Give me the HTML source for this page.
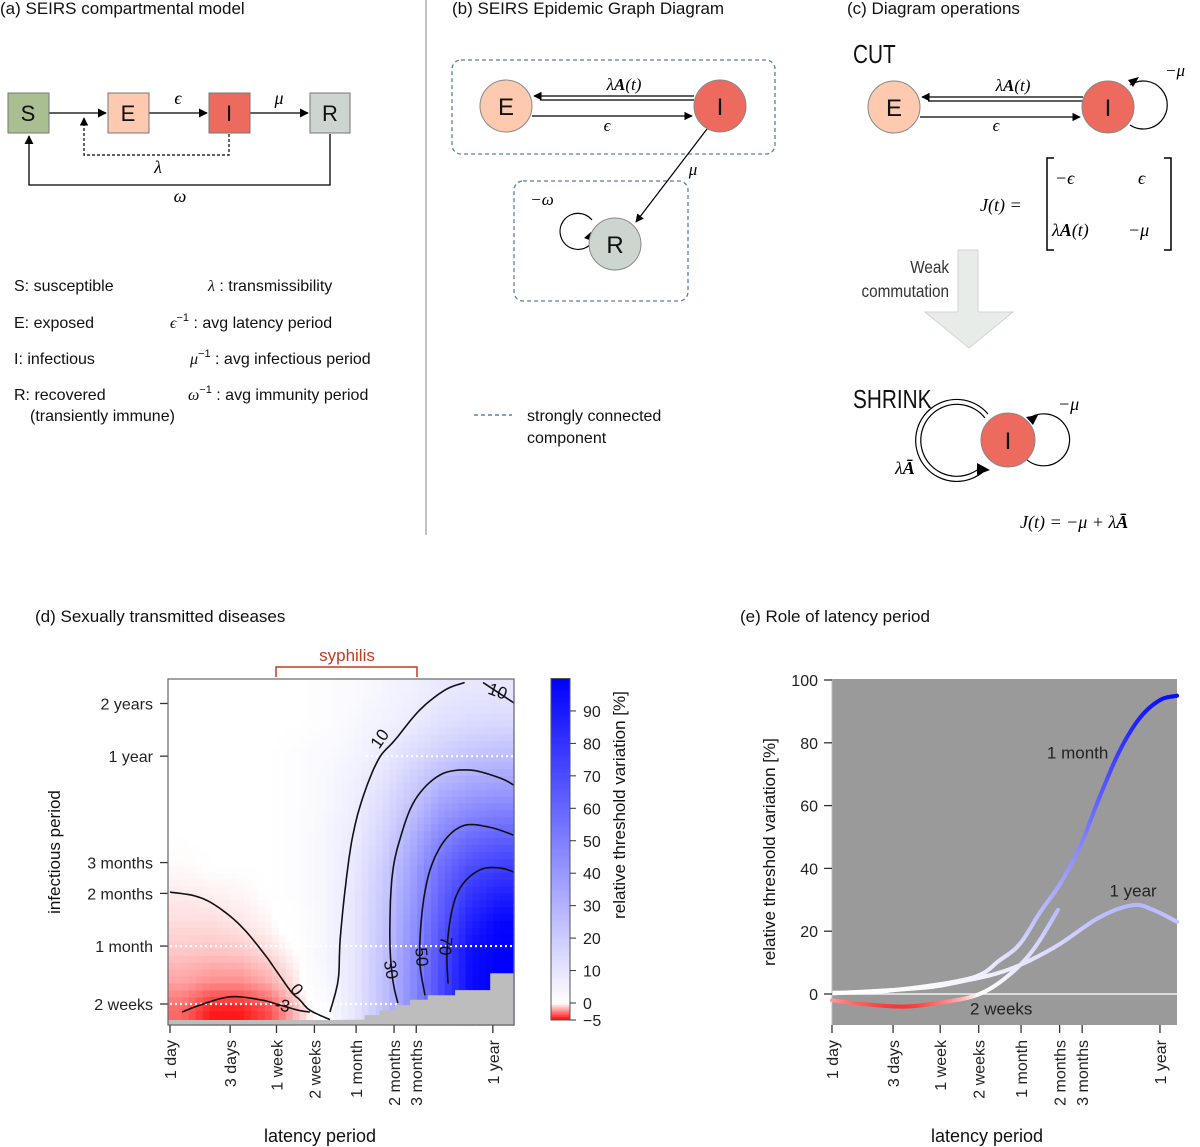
<!DOCTYPE html>
<html><head><meta charset="utf-8"><style>
html,body{margin:0;padding:0;background:#fff;}
svg{display:block;font-family:"Liberation Sans",sans-serif;}
.hd{font-size:17px;fill:#111;}
.lt{font-size:16px;fill:#111;}
.m{font-family:"Liberation Serif",serif;font-style:italic;}
.tk{font-size:16px;fill:#222;}
</style></head><body>
<svg id="fig" width="1200" height="1147" viewBox="0 0 1200 1147">
<defs>
<marker id="ah" viewBox="0 0 10 10" refX="9" refY="5" markerWidth="7" markerHeight="7" orient="auto-start-reverse"><path d="M0,0L10,5L0,10z" fill="#000"/></marker>
</defs>
<!-- Panel a -->
<g>
<text class="hd" x="0" y="14">(a)   SEIRS compartmental model</text>
<line x1="49" y1="113" x2="106" y2="113" stroke="#000" stroke-width="1.3" marker-end="url(#ah)"/>
<line x1="149" y1="113" x2="207" y2="113" stroke="#000" stroke-width="1.3" marker-end="url(#ah)"/>
<line x1="250" y1="113" x2="308" y2="113" stroke="#000" stroke-width="1.3" marker-end="url(#ah)"/>
<polyline points="229,134 229,155 84,155 84,118" fill="none" stroke="#000" stroke-width="1.2" stroke-dasharray="3,2" marker-end="url(#ah)"/>
<polyline points="330,134 330,185 29,185 29,136" fill="none" stroke="#000" stroke-width="1.3" marker-end="url(#ah)"/>
<rect x="8" y="93" width="41" height="40" fill="#a9bf92" stroke="#777"/>
<rect x="108" y="93" width="41" height="40" fill="#fdcab0" stroke="#777"/>
<rect x="209" y="93" width="41" height="40" fill="#ec6a5e" stroke="#777"/>
<rect x="310" y="93" width="40" height="40" fill="#ccd6cf" stroke="#777"/>
<g font-size="22" text-anchor="middle" fill="#111"><text x="28" y="121">S</text><text x="128" y="121">E</text><text x="229" y="121">I</text><text x="330" y="121">R</text></g>
<g class="m" font-size="18" text-anchor="middle"><text x="178" y="104">ϵ</text><text x="279" y="104">μ</text><text x="158" y="173">λ</text><text x="180" y="202">ω</text></g>
<g class="lt"><text x="14" y="291">S: susceptible</text><text x="14" y="328">E: exposed</text><text x="14" y="364">I: infectious</text><text x="14" y="400">R: recovered</text><text x="30" y="421">(transiently immune)</text>
<text x="208" y="291"><tspan class="m">λ</tspan> : transmissibility</text>
<text x="170" y="328"><tspan class="m">ϵ</tspan><tspan font-size="11" dy="-7">−1</tspan><tspan dy="7"> : avg latency period</tspan></text>
<text x="190" y="364"><tspan class="m">μ</tspan><tspan font-size="11" dy="-7">−1</tspan><tspan dy="7"> : avg infectious period</tspan></text>
<text x="188" y="400"><tspan class="m">ω</tspan><tspan font-size="11" dy="-7">−1</tspan><tspan dy="7"> : avg immunity period</tspan></text></g>
</g>
<line x1="426" y1="0" x2="426" y2="535" stroke="#999" stroke-width="1.2"/>
<!-- Panel b -->
<g>
<text class="hd" x="452" y="14">(b)   SEIRS Epidemic Graph Diagram</text>
<rect x="452" y="60" width="323" height="94" rx="9" fill="none" stroke="#5a7ea8" stroke-width="1.3" stroke-dasharray="4,3"/>
<rect x="514" y="181" width="174" height="120" rx="9" fill="none" stroke="#5a7ea8" stroke-width="1.3" stroke-dasharray="4,3"/>
<line x1="694" y1="96" x2="534" y2="96" stroke="#000" stroke-width="1.2" marker-end="url(#ah)"/>
<line x1="694" y1="100" x2="540" y2="100" stroke="#000" stroke-width="1.2"/>
<line x1="532" y1="116" x2="692" y2="116" stroke="#000" stroke-width="1.2" marker-end="url(#ah)"/>
<line x1="707" y1="129" x2="636" y2="222" stroke="#000" stroke-width="1.2" marker-end="url(#ah)"/>
<path d="M596,230 A18,18 0 1 1 592,220" fill="none" stroke="#000" stroke-width="1.2"/>
<path d="M584,238 l8,3 l-1,-9z" fill="#000"/>
<circle cx="506" cy="106" r="26" fill="#fdcab0" stroke="#888"/>
<circle cx="720" cy="106" r="26" fill="#ec6a5e" stroke="#888"/>
<circle cx="615" cy="244" r="26" fill="#ccd6cf" stroke="#888"/>
<g font-size="24" text-anchor="middle" fill="#111"><text x="506" y="115">E</text><text x="720" y="115">I</text><text x="615" y="253">R</text></g>
<g class="m" font-size="17" text-anchor="middle"><text x="624" y="90">λ<tspan font-weight="bold">A</tspan>(t)</text><text x="607" y="131">ϵ</text><text x="693" y="175">μ</text><text x="542" y="205">−ω</text></g>
<line x1="474" y1="415" x2="512" y2="415" stroke="#5a7ea8" stroke-width="1.5" stroke-dasharray="4,3"/>
<text class="lt" x="527" y="421">strongly connected</text><text class="lt" x="527" y="443">component</text>
</g>
<!-- Panel c -->
<g>
<text class="hd" x="847" y="14">(c)   Diagram operations</text>
<text x="853" y="63" font-size="26" fill="#111" transform="scale(0.8,1)" style="transform-origin:853px 63px">CUT</text>
<line x1="1083" y1="97" x2="922" y2="97" stroke="#000" stroke-width="1.2" marker-end="url(#ah)"/>
<line x1="1083" y1="101" x2="928" y2="101" stroke="#000" stroke-width="1.2"/>
<line x1="920" y1="117" x2="1080" y2="117" stroke="#000" stroke-width="1.2" marker-end="url(#ah)"/>
<path d="M1130,125 A24,24 0 1 0 1130,85" fill="none" stroke="#000" stroke-width="1.2"/>
<path d="M1128,80 l11,-3 l-6,10z" fill="#000"/>
<circle cx="894" cy="107" r="26" fill="#fdcab0" stroke="#888"/>
<circle cx="1108" cy="107" r="26" fill="#ec6a5e" stroke="#888"/>
<g font-size="24" text-anchor="middle" fill="#111"><text x="894" y="116">E</text><text x="1108" y="116">I</text></g>
<g class="m" font-size="17" text-anchor="middle"><text x="1013" y="91">λ<tspan font-weight="bold">A</tspan>(t)</text><text x="996" y="131">ϵ</text><text x="1175" y="76">−μ</text></g>
<g class="m" font-size="18"><text x="980" y="211">J(t) =</text><text x="1055" y="184">−ϵ</text><text x="1138" y="184">ϵ</text><text x="1052" y="236">λ<tspan font-weight="bold">A</tspan>(t)</text><text x="1128" y="236">−μ</text></g>
<path d="M1054,158 h-7 v92 h7 M1164,158 h7 v92 h-7" fill="none" stroke="#000" stroke-width="1.5"/>
<g font-size="18" fill="#333" text-anchor="end" transform="scale(0.85,1)" style="transform-origin:949px 280px"><text x="949" y="273">Weak</text><text x="949" y="297">commutation</text></g>
<path d="M958,250 h20 v62 h35 l-44,36 l-44,-36 h33z" fill="#e7ece8" stroke="#cfd6d0"/>
<text x="853" y="408" font-size="26" fill="#111" transform="scale(0.8,1)" style="transform-origin:853px 408px">SHRINK</text>
<path d="M985,418 A36,36 0 1 0 982,466" fill="none" stroke="#000" stroke-width="1.2"/>
<path d="M988,414 A41,41 0 1 0 984,471" fill="none" stroke="#000" stroke-width="1.2"/>
<path d="M990,470 l-13,-7 l0,12z" fill="#000"/>
<path d="M1025,458 A26,26 0 1 0 1028,419" fill="none" stroke="#000" stroke-width="1.2"/>
<path d="M1026,417 l12,-2 l-5,10z" fill="#000"/>
<circle cx="1008" cy="440" r="27" fill="#ec6a5e" stroke="#888"/>
<text x="1008" y="449" font-size="24" text-anchor="middle" fill="#111">I</text>
<g class="m" font-size="18"><text x="1058" y="410">−μ</text><text x="895" y="474">λ<tspan font-weight="bold">Ā</tspan></text><text x="1020" y="528">J(t) = −μ + λ<tspan font-weight="bold">Ā</tspan></text></g>
</g>
<!-- Panel d -->
<g id="pd">
<text class="hd" x="35" y="622">(d)   Sexually transmitted diseases</text>
<path d="M276,677 V667 H417 V677" fill="none" stroke="#c23b22" stroke-width="1.5"/>
<text x="347" y="661" font-size="17" fill="#c23b22" text-anchor="middle">syphilis</text>
<g id="heat"></g>
<g id="dover"></g>
<rect x="168" y="679" width="346" height="346" fill="none" stroke="#666" stroke-width="1.2"/>
<text x="60" y="852" font-size="17" fill="#111" text-anchor="middle" transform="rotate(-90 60 852)">infectious period</text>
<text x="320" y="1142" font-size="18" fill="#111" text-anchor="middle">latency period</text>
<g id="cbar"></g>
<text x="625" y="805" font-size="17" fill="#111" text-anchor="middle" transform="rotate(-90 625 805)">relative threshold variation [%]</text>
</g>
<!-- Panel e -->
<g id="pe">
<text class="hd" x="740" y="622">(e)   Role of latency period</text>
<rect x="832" y="679" width="345" height="346" fill="#9a9a9a"/>
<g id="eover"></g>
<text x="775" y="852" font-size="17" fill="#111" text-anchor="middle" transform="rotate(-90 775 852)">relative threshold variation [%]</text>
<text x="987" y="1142" font-size="18" fill="#111" text-anchor="middle">latency period</text>
</g>
</svg>
<script>
var NS="http://www.w3.org/2000/svg";
function mk(p,t,a){var e=document.createElementNS(NS,t);for(var k in a)e.setAttribute(k,a[k]);p.appendChild(e);return e;}
// ---- data panel d ----
var xTickDays=[1,3,7,14,30,60,90,365];
var xTickLabels=["1 day","3 days","1 week","2 weeks","1 month","2 months","3 months","1 year"];
var yTickDays=[14,30,60,90,365,730];
var yTickLabels=["2 weeks","1 month","2 months","3 months","1 year","2 years"];
var heatGrid=[
[0,0,0,0,0,1,2,4,6,9,10,10],
[0,0,0,0,0,1,3,5,8,12,14,15],
[0,0,0,0,1,2,4,8,13,18,22,24],
[0,0,0,0,1,3,6,11,19,28,33,35],
[0,0,0,0,1,3,7,14,25,38,45,48],
[0,0,0,0,1,4,8,17,32,48,58,62],
[-0.1,0,0,0,1,4,9,20,37,57,70,75],
[-0.4,-0.3,-0.2,0,1,4,10,22,40,62,80,88],
[-0.7,-0.7,-0.5,-0.2,0.5,4,10,23,43,66,88,98],
[-1.1,-1.2,-1.1,-0.7,0,4,10,24,45,70,95,100],
[-1.8,-2.2,-2.2,-1.6,-0.4,3,10,25,46,72,96,100],
[-3,-4.5,-4.5,-3.5,-1.2,1,10,25,46,72,96,100]];
var grayLat=[18.6,35,46,61,80.5,111,183,348,600];
var grayInf=[11.4,12.1,12.9,13.8,14.8,15.7,16.8,21,21];
var contourLevels=["10","10","30","50","70","0","-3"];
var contourLat=[
[18.6,21.6,22.4,24.5,27.8,33.4,44.8,61.1,96,152,218],
[305,537],
[64.3,58.7,55.6,57.6,66.5,88,139,240,415,537],
[105.6,96,100.6,116,152,218,348,537],
[161,158,173,208,290,415,537],
[1,1.58,2.27,3.6,5.68,8.95,10.7,12.9,18.6],
[1.25,1.73,3,5.2,7.5,10.4,12.9]];
var contourInf=[
[12.6,19.2,32.5,62.5,121,205,347,452,670,871,962],
[962,735],
[14.2,19.2,32.5,72,121,205,285,304,274,249],
[15.7,25,48.2,82,121,147,143,129],
[18.3,28.5,48.2,67,82,83.8,79.4],
[61,58,51.5,39.5,26.7,16.8,14.8,12.9,11.4],
[12.6,13.8,15.4,14.8,13.8,12.9,12.6]];
var labelLat=[46,400,57,100,155,10.2,7.8];
var labelInf=[460,860,22,26,30,17,13.8];
var labelRot=[-55,20,80,85,95,50,10];
var dottedInf=[365,30,14];
var dottedFrom=[36,1,1];
var dottedTo=[540,540,67];
var cbTicks=[-5,0,10,20,30,40,50,60,70,80,90];
function xd(d){return 170+126*Math.log10(d);}
function yd(d){return 1004-175*(Math.log10(d)-Math.log10(14));}
function col(v){if(v<0){var f=Math.min(1,-v/5);var g=Math.round(255*(1-f));return"rgb(255,"+g+","+g+")";}
var f=Math.min(1,v/100);var g=Math.round(255*(1-f));return"rgb("+g+","+g+",255)";}
function catmull(xs,ys,n){var out=[];for(var i=0;i<xs.length-1;i++){var p0=i?i-1:i,p3=Math.min(xs.length-1,i+2);for(var s=0;s<n;s++){var t=s/n,t2=t*t,t3=t2*t;
var cr=function(a,b,c,d){return 0.5*((2*b)+(-a+c)*t+(2*a-5*b+4*c-d)*t2+(-a+3*b-3*c+d)*t3);};
out.push([cr(xs[p0],xs[i],xs[i+1],xs[p3]),cr(ys[p0],ys[i],ys[i+1],ys[p3])]);}}
out.push([xs[xs.length-1],ys[ys.length-1]]);return out;}
var heat=document.getElementById("heat");
var X0=168,Y0=679,W=346,H=346,nr=heatGrid.length,nc=heatGrid[0].length,cs=W/nc,rs=H/nr;
function sample(px,py){var fx=(px-X0)/cs-0.5,fy=(py-Y0)/rs-0.5;fx=Math.max(0,Math.min(nc-1,fx));fy=Math.max(0,Math.min(nr-1,fy));
var i=Math.floor(fx),j=Math.floor(fy),i1=Math.min(nc-1,i+1),j1=Math.min(nr-1,j+1),a=fx-i,b=fy-j;
return heatGrid[j][i]*(1-a)*(1-b)+heatGrid[j][i1]*a*(1-b)+heatGrid[j1][i]*(1-a)*b+heatGrid[j1][i1]*a*b;}
var step=346/50;
for(var r=0;r<50;r++)for(var c=0;c<50;c++){var px=X0+c*step,py=Y0+r*step;var v=sample(px+step/2,py+step/2);
var e=mk(heat,"rect",{x:px.toFixed(2),y:py.toFixed(2),width:(step+0.6).toFixed(2),height:(step+0.6).toFixed(2),fill:col(v)});

}
var gp="M168,1025 L168,1020 L"+xd(grayLat[0]).toFixed(1)+",1020";
for(var k=1;k<grayLat.length;k++){var xx=Math.min(514,xd(grayLat[k])),y0=yd(grayInf[k-1]),y1=yd(grayInf[k]);gp+=" L"+xx.toFixed(1)+","+y0.toFixed(1)+" L"+xx.toFixed(1)+","+y1.toFixed(1);}
gp+=" L514,"+yd(grayInf[grayInf.length-1]).toFixed(1)+" L514,1025Z";
var gr=mk(heat,"path",{d:gp,fill:"#bdbdbd"});


var dover=document.getElementById("dover");
for(var k=0;k<dottedInf.length;k++){var ln=mk(dover,"line",{x1:Math.max(168,xd(dottedFrom[k])),x2:Math.min(514,xd(dottedTo[k])),y1:yd(dottedInf[k]),y2:yd(dottedInf[k]),stroke:"#fff","stroke-width":2.2,"stroke-dasharray":"2,3"});

}
for(var k=0;k<contourLat.length;k++){var cp=catmull(contourLat[k].map(xd),contourInf[k].map(yd),8);
var pts=cp.map(function(p){return p[0].toFixed(1)+","+p[1].toFixed(1);}).join(" ");
var pl=mk(dover,"polyline",{points:pts,fill:"none",stroke:"#111","stroke-width":1.6});


var lx=xd(labelLat[k]),ly=yd(labelInf[k]);
var t=mk(dover,"text",{x:lx,y:ly+6,"font-size":17,fill:"#111","text-anchor":"middle",transform:"rotate("+labelRot[k]+" "+lx+" "+ly+")"});t.textContent=contourLevels[k];

}
for(var k=0;k<xTickDays.length;k++){var x=xd(xTickDays[k]);mk(dover,"line",{x1:x,x2:x,y1:1025,y2:1033,stroke:"#333","stroke-width":1.3});
var t=mk(dover,"text",{x:x+6,y:1040,"text-anchor":"end",class:"tk",transform:"rotate(-90 "+(x+6)+" 1040)"});t.textContent=xTickLabels[k];

}
for(var k=0;k<yTickDays.length;k++){var y=yd(yTickDays[k]);mk(dover,"line",{x1:160,x2:168,y1:y,y2:y,stroke:"#333","stroke-width":1.3});
var t=mk(dover,"text",{x:153,y:y+6,"text-anchor":"end",class:"tk"});t.textContent=yTickLabels[k];

}
var cb=document.getElementById("cbar");
function ycb(v){return v>=0?1003-3.245*v:1003-3.4*v;}
for(var v=-5;v<100;v+=0.5){mk(cb,"rect",{x:551,y:ycb(v+0.5).toFixed(2),width:19,height:(Math.abs(ycb(v)-ycb(v+0.5))+0.4).toFixed(2),fill:col(v+0.25)});}
mk(cb,"rect",{x:551,y:ycb(100),width:19,height:ycb(-5)-ycb(100),fill:"none",stroke:"#555"});
for(var k=0;k<cbTicks.length;k++){var y=ycb(cbTicks[k]);mk(cb,"line",{x1:570,x2:576,y1:y,y2:y,stroke:"#333"});
var t=mk(cb,"text",{x:583,y:y+6,class:"tk"});t.textContent=cbTicks[k]<0?"−"+(-cbTicks[k]):cbTicks[k];

}
// ---- panel e ----
var eYTicks=[0,20,40,60,80,100];
var seriesNames=["2 weeks","1 year","1 month"];
var lat2w=[1,1.75,3.59,6.6,13.6,23.3,37.2,58.3];
var val2w=[-2,-3.2,-4,-2.9,-0.3,5.5,14,26.8];
var lat1y=[1,4.87,10,23.3,53.3,124,225,322,496];
var val1y=[0.2,1.9,3.9,7.6,14.6,24.5,28.3,26.8,23];
var lat1m=[1,2.69,12,20.5,29.4,42.2,60.4,86.6,124,178,255,365,496];
var val1m=[0.4,1,5,10.8,16,26,35,47,63,77.7,88,93.6,95];
var labX=[21,225,83];var labV=[-6.5,31,75];
function xe(d){return 832+128*Math.log10(d);}
function ye(v){return 994-3.14*v;}
var eo=document.getElementById("eover");
mk(eo,"line",{x1:832,x2:1177,y1:ye(0),y2:ye(0),stroke:"#f2f2f2","stroke-width":1.5});
var S=[[lat2w,val2w],[lat1y,val1y],[lat1m,val1m]];
for(var s=0;s<S.length;s++){var xs=S[s][0].map(xe),vs=S[s][1];var pts=catmull(xs,vs,12);
for(var i=0;i<pts.length-1;i++){var v=(pts[i][1]+pts[i+1][1])/2;var sg=mk(eo,"line",{x1:pts[i][0].toFixed(1),y1:ye(pts[i][1]).toFixed(1),x2:pts[i+1][0].toFixed(1),y2:ye(pts[i+1][1]).toFixed(1),stroke:col(v),"stroke-width":4,"stroke-linecap":"round"});

}
var t=mk(eo,"text",{x:xe(labX[s]),y:ye(labV[s]),"font-size":17,fill:"#222","text-anchor":"middle"});t.textContent=seriesNames[s];

}
mk(eo,"line",{x1:832,x2:832,y1:679,y2:1025,stroke:"#bbb"});
for(var k=0;k<eYTicks.length;k++){var y=ye(eYTicks[k]);mk(eo,"line",{x1:824,x2:832,y1:y,y2:y,stroke:"#333","stroke-width":1.3});
var t=mk(eo,"text",{x:818,y:y+6,"text-anchor":"end",class:"tk"});t.textContent=eYTicks[k];

}
for(var k=0;k<xTickDays.length;k++){var x=xe(xTickDays[k]);mk(eo,"line",{x1:x,x2:x,y1:1025,y2:1033,stroke:"#333","stroke-width":1.3});
var t=mk(eo,"text",{x:x+6,y:1040,"text-anchor":"end",class:"tk",transform:"rotate(-90 "+(x+6)+" 1040)"});t.textContent=xTickLabels[k];

}
</script>
</body></html>
